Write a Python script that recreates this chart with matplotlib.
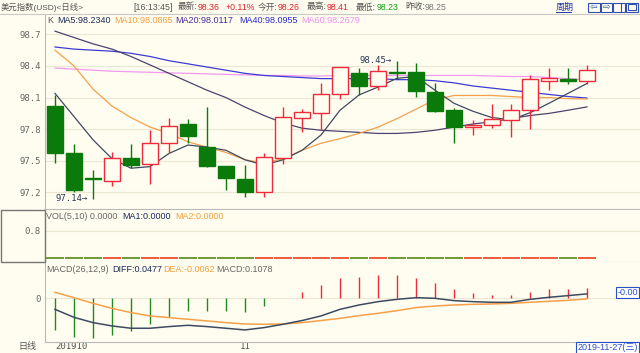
import numpy as np
import matplotlib.pyplot as plt
from matplotlib.patches import Rectangle

# USD index, daily candles (2019-10 .. 2019-11-27)
opens  = [98.02, 97.57, 97.34, 97.31, 97.53, 97.47, 97.67, 97.85, 97.63, 97.45,
          97.325, 97.20, 97.53, 97.91, 97.95, 98.13, 98.33, 98.21, 98.345, 98.34,
          98.15, 97.98, 97.82, 97.84, 97.89, 97.98, 98.255, 98.28, 98.26]
highs  = [98.12, 97.66, 97.41, 97.58, 97.66, 97.79, 97.91, 97.90, 98.01, 97.45,
          97.46, 97.57, 98.01, 97.99, 98.24, 98.39, 98.38, 98.41, 98.45, 98.425,
          98.24, 98.00, 97.89, 98.04, 98.04, 98.315, 98.38, 98.38, 98.41]
lows   = [97.48, 97.20, 97.14, 97.26, 97.43, 97.28, 97.57, 97.67, 97.445, 97.22,
          97.16, 97.16, 97.47, 97.77, 97.79, 98.09, 98.125, 98.17, 98.28, 98.11,
          97.96, 97.67, 97.745, 97.815, 97.73, 97.80, 98.17, 98.23, 98.23]
closes = [97.57, 97.22, 97.33, 97.53, 97.46, 97.67, 97.83, 97.74, 97.45, 97.335,
          97.20, 97.54, 97.92, 97.96, 98.13, 98.39, 98.21, 98.35, 98.335, 98.16,
          97.97, 97.82, 97.84, 97.90, 97.98, 98.28, 98.29, 98.255, 98.36]

ma5  = [98.14, 97.92, 97.70, 97.52, 97.43, 97.445, 97.57, 97.65, 97.63, 97.60,
        97.51, 97.46, 97.51, 97.60, 97.745, 97.98, 98.125, 98.20, 98.283, 98.30,
        98.17, 98.046, 97.97, 97.91, 97.89, 97.956, 98.046, 98.14, 98.234]
ma10 = [98.55, 98.40, 98.18, 98.02, 97.91, 97.82, 97.76, 97.68, 97.63, 97.58,
        97.51, 97.48, 97.52, 97.60, 97.667, 97.71, 97.76, 97.82, 97.90, 97.99,
        98.08, 98.12, 98.12, 98.12, 98.11, 98.10, 98.10, 98.09, 98.0865]
ma20 = [98.73, 98.67, 98.61, 98.56, 98.49, 98.41, 98.33, 98.25, 98.17, 98.10,
        98.01, 97.93, 97.86, 97.81, 97.79, 97.78, 97.77, 97.76, 97.76, 97.77,
        97.79, 97.82, 97.85, 97.87, 97.90, 97.93, 97.95, 97.98, 98.0117]
ma40 = [98.58, 98.56, 98.55, 98.54, 98.52, 98.49, 98.45, 98.42, 98.39, 98.36,
        98.33, 98.31, 98.30, 98.29, 98.28, 98.28, 98.28, 98.28, 98.27, 98.27,
        98.26, 98.24, 98.21, 98.19, 98.17, 98.15, 98.13, 98.11, 98.0955]
ma60 = [98.38, 98.37, 98.36, 98.35, 98.345, 98.34, 98.335, 98.33, 98.325, 98.32,
        98.315, 98.31, 98.31, 98.305, 98.305, 98.31, 98.31, 98.31, 98.31, 98.31,
        98.31, 98.31, 98.31, 98.305, 98.30, 98.30, 98.29, 98.28, 98.2679]

volume = [0, 0, 0, 0, 0, 0, 0, 0, 0, 0, 0, 0, 0, 0, 0,
          0, 0, 0, 0, 0, 0, 0, 0, 0, 0, 0, 0, 0, 0]

diff = [-0.119, -0.205, -0.262, -0.298, -0.323, -0.323, -0.305, -0.291, -0.305, -0.323,
        -0.341, -0.316, -0.28, -0.24, -0.19, -0.119, -0.072, -0.036, -0.011, 0.007,
        0.0, -0.025, -0.036, -0.043, -0.043, -0.011, 0.011, 0.029, 0.0477]
dea  = [0.065, 0.007, -0.054, -0.108, -0.154, -0.19, -0.208, -0.226, -0.244, -0.262,
        -0.277, -0.28, -0.277, -0.262, -0.24, -0.216, -0.187, -0.162, -0.133, -0.1,
        -0.083, -0.072, -0.065, -0.061, -0.054, -0.043, -0.032, -0.022, -0.0062]
macd = [-0.341, -0.42, -0.431, -0.395, -0.352, -0.277, -0.198, -0.137, -0.137, -0.137,
        -0.144, -0.079, 0.0, 0.072, 0.144, 0.216, 0.234, 0.25, 0.25, 0.216,
        0.162, 0.097, 0.054, 0.036, 0.036, 0.072, 0.097, 0.097, 0.1078]

price_ticks = [97.2, 97.5, 97.8, 98.1, 98.4, 98.7]
date_ticks = [0, 10]
date_labels = ["201910", "11"]

BG = "#fffdef"
GRID = "#ebe7d3"
UP = "#ee2a3c"
DOWN = "#0a7a0a"
CJK = ["Liberation Sans", "Noto Sans CJK SC"]
MONO = ["DejaVu Sans Mono", "Noto Sans CJK SC"]

W, H = 640, 353
fig = plt.figure(figsize=(6.4, 3.53), dpi=100, facecolor=BG)


def put(x, y, s, color="#555555", size=6.5, family=CJK, **kw):
    # place text by pixel coords (top-left origin)
    return fig.text(x / W, 1 - y / H, s, color=color, fontsize=size,
                    family=family, va="center", **kw)


def panel(top, bottom):
    ax = fig.add_axes([45 / W, 1 - bottom / H, 1 - 45 / W, (bottom - top) / H])
    ax.set_facecolor(BG)
    for s in ["top", "right"]:
        ax.spines[s].set_visible(False)
    for s in ["left", "bottom"]:
        ax.spines[s].set_color("#b8b8b8")
        ax.spines[s].set_linewidth(0.8)
    ax.set_xlim(-10 / 19, 585 / 19)
    ax.set_xticks([])
    ax.tick_params(axis="y", length=0, pad=3, labelsize=6.5, colors="#666666")
    return ax


x = np.arange(len(closes))

# ---- main candle panel
ax = panel(14, 209)
ax.set_ylim(97.043, 98.893)
ax.set_yticks(price_ticks)
ax.set_yticklabels([f"{v:.1f}" for v in price_ticks], family=MONO)
ax.grid(axis="y", color=GRID, lw=0.8)
ax.set_axisbelow(True)

ax.plot(x, ma60, color="#f29af0", lw=0.9)
ax.plot(x, ma40, color="#3c3cd2", lw=0.9)
ax.plot(x, ma20, color="#4c4470", lw=0.9)
ax.plot(x, ma10, color="#f5a04a", lw=0.9)
ax.plot(x, ma5, color="#3e4a62", lw=0.9)

for i in x:
    o, h, l, c = opens[i], highs[i], lows[i], closes[i]
    up = c > o
    col = UP if up else DOWN
    lo, hi = min(o, c), max(o, c)
    ax.vlines(i, hi, h, color=col, lw=1, zorder=3)
    ax.vlines(i, l, lo, color=col, lw=1, zorder=3)
    ax.add_patch(Rectangle((i - 0.42, lo), 0.84, hi - lo, facecolor=BG if up else col,
                           edgecolor=col, lw=1, zorder=4))

# extreme markers
imin = int(np.argmin(lows))
imax = int(np.argmax(highs))
ax.text(imin - 0.25, lows[imin], f"{lows[imin]:.2f}\u2192", ha="right", va="center",
        fontsize=6.5, color="#2c3a55", family=MONO)
ax.text(imax - 0.25, highs[imax], f"{highs[imax]:.2f}\u2192", ha="right", va="center",
        fontsize=6.5, color="#2c3a55", family=MONO)

# ---- volume panel
axv = panel(210, 261.7)
axv.set_ylim(-0.099, 1.4)
axv.set_yticks([0.8])
axv.set_yticklabels(["0.8"], family=MONO)
axv.grid(axis="y", color=GRID, lw=0.8)
vcols = ["#ef5a3c" if c > o else "#6f9a35" for o, c in zip(opens, closes)]
axv.bar(x, volume, width=0.95, color=vcols, edgecolor=vcols, lw=1.4)
fig.patches.append(Rectangle((0.5 / W, 1 - 261.7 / H), 44.5 / W, 51.7 / H,
                             transform=fig.transFigure, fill=False,
                             edgecolor="#777777", lw=1))

# ---- MACD panel
axm = panel(261.7, 341.7)
axm.set_ylim(-0.468, 0.395)
axm.set_yticks([0])
axm.set_yticklabels(["0"], family=MONO)
axm.axhline(0, color=GRID, lw=0.8, zorder=0)
mcols = [UP if v > 0 else "#1f8a1f" for v in macd]
axm.vlines(x, 0, macd, colors=mcols, lw=1)
axm.plot(x, dea, color="#f5a04a", lw=1.1)
axm.plot(x, diff, color="#3e4a62", lw=1.1)
axm.set_xticks(date_ticks)
axm.set_xticklabels(date_labels, family=MONO)
axm.tick_params(axis="x", length=0, pad=0.5, labelsize=6.5, colors="#555555")
axm.get_xticklabels()[0].set_ha("left")

# ---- header and legends
fig.add_artist(plt.Line2D([0, 1], [1 - 13.5 / H] * 2, color="#c8c8c8", lw=0.8))
put(1, 7, "美元指数(USD)<日线>", "#555555", 6)
red, grn, gry = "#e0202a", "#10a010", "#777777"
put(133, 7, "[16:13:45]", "#555555", 6.3)
put(178, 7, "最新:", "#555555", 6.3)
put(198, 7, "98.36", red, 6.3)
put(226, 7, "+0.11%", red, 6.3)
put(258, 7, "今开:", "#555555", 6.3)
put(278, 7, "98.26", red, 6.3)
put(307, 7, "最高:", "#555555", 6.3)
put(327, 7, "98.41", red, 6.3)
put(356, 7, "最低:", "#555555", 6.3)
put(377, 7, "98.23", grn, 6.3)
put(405, 7, "昨收:", "#555555", 6.3)
put(425, 7, "98.25", gry, 6.3)
put(556, 7, "周期", "#2038a8", 6.5)
fig.add_artist(plt.Line2D([556 / W, 571 / W], [1 - 12 / H] * 2, color="#2038a8", lw=0.7))
for k, g in enumerate(["\u21e6", "\u21e8", "", ""]):
    x0 = 588 + k * 12.7
    fig.patches.append(Rectangle((x0 / W, 1 - 12 / H), 11.5 / W, 9.5 / H,
                                 transform=fig.transFigure, fill=False,
                                 edgecolor="#3050b0", lw=0.8))
    if g:
        put(x0 + 5.75, 7.2, g, "#3050b0", 6.5, ["DejaVu Sans"], ha="center")
fig.add_artist(plt.Line2D([(588 + 25.4 + 7.5) / W] * 2, [1 - 11.5 / H, 1 - 3 / H],
                          color="#3050b0", lw=0.8))
fig.patches.append(Rectangle(((588 + 38.1 + 2) / W, 1 - 10 / H), 7.5 / W, 6 / H,
                             transform=fig.transFigure, fill=False,
                             edgecolor="#3050b0", lw=0.8))

put(47, 20.5, "K", "#555555", 6.5)
put(57, 20.5, "MA5:98.2340", "#1c2a5a", 6.5)
put(114, 20.5, "MA10:98.0865", "#f0a040", 6.5)
put(175, 20.5, "MA20:98.0117", "#4a2a9a", 6.5)
put(239, 20.5, "MA40:98.0955", "#2a2ad0", 6.5)
put(301, 20.5, "MA60:98.2679", "#f090f0", 6.5)

put(46, 216.5, "VOL(5,10) 0.0000", "#666666", 6.5)
put(122, 216.5, "MA1:0.0000", "#1c2a5a", 6.5)
put(175, 216.5, "MA2:0.0000", "#f0a040", 6.5)

put(46, 269, "MACD(26,12,9)", "#666666", 6.5)
put(112, 269, "DIFF:0.0477", "#1c2a5a", 6.5)
put(163, 269, "DEA:-0.0062", "#f0a040", 6.5)
put(216, 269, "MACD:0.1078", "#666666", 6.5)

box = dict(boxstyle="square,pad=0.15", facecolor="white", edgecolor="#2a50c8", lw=0.8)
put(638, 292.5, "-0.00", "#2a50c8", 6.5, ha="right", bbox=box)
put(638, 348, "2019-11-27(三)", "#2a50c8", 6.5, ha="right", bbox=box)
put(27, 347, "日线", "#555555", 6.5, ha="center")

fig.savefig("out.png", dpi=100, facecolor=BG)
